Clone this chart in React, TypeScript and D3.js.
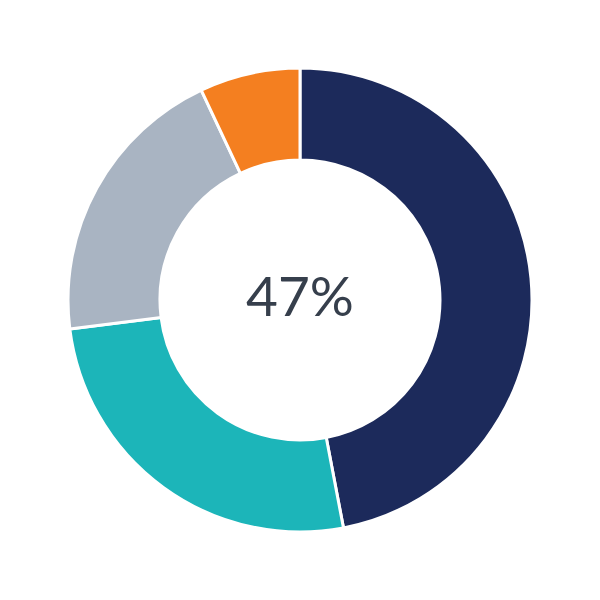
import React, { useEffect, useRef } from "react";
import * as d3 from "d3";

const categories = ["A", "B", "C", "D"];
const values = [47, 26, 20, 7];
const colors = ["#1c2a5b", "#1cb5b9", "#a9b4c2", "#f47f20"];
const centerLabel = "47%";

export default function App() {
  const svgRef = useRef<SVGSVGElement>(null);
  const width = 600;
  const height = 600;

  useEffect(() => {
    if (!svgRef.current) return;
    const svg = d3.select(svgRef.current);
    svg.selectAll("*").remove();

    const outer = 232;
    const inner = 140;

    const data = categories.map((c, i) => ({ name: c, value: values[i], color: colors[i] }));

    const pie = d3.pie<{ name: string; value: number; color: string }>()
      .value((d) => d.value)
      .sort(null);

    const arc = d3.arc<d3.PieArcDatum<{ name: string; value: number; color: string }>>()
      .innerRadius(inner)
      .outerRadius(outer);

    const g = svg.append("g")
      .attr("transform", `translate(${width / 2}, ${height / 2})`);

    g.selectAll("path")
      .data(pie(data))
      .enter()
      .append("path")
      .attr("d", arc)
      .attr("fill", (d) => d.data.color)
      .attr("stroke", "#ffffff")
      .attr("stroke-width", 3)
      .attr("stroke-linejoin", "round");

    // Center label
    g.append("text")
      .attr("x", 0)
      .attr("y", 16)
      .attr("text-anchor", "middle")
      .attr("fill", "#363f4c")
      .attr("font-size", "55px")
      .attr("font-weight", 400)
      .attr("font-family", "Lato, sans-serif")
      .text(centerLabel);
  }, []);

  return (
    <svg
      ref={svgRef}
      width={width}
      height={height}
      style={{ position: "absolute", left: 0, top: 0, background: "#ffffff" }}
    />
  );
}
